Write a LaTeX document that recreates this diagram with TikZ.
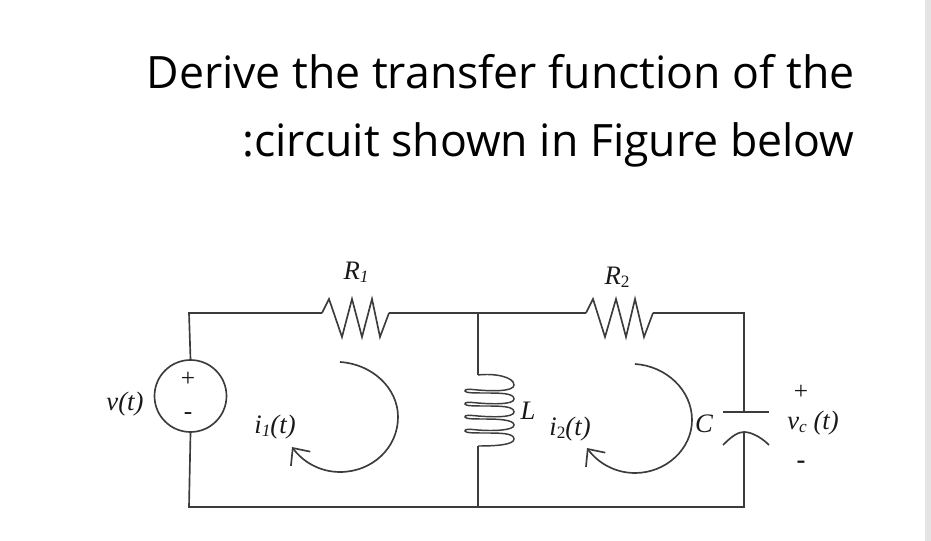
\documentclass[tikz,border=0pt]{standalone}
\usepackage{fontspec}
\setmainfont{Liberation Serif}
\newfontfamily\titlefont{Open Sans}
\usetikzlibrary{arrows.meta}
\definecolor{wirecol}{HTML}{3C3C3C}
\definecolor{edgecol}{HTML}{E4E4E4}
\tikzset{every picture/.style={line width=0.75pt}}
\tikzset{wire/.style={draw=wirecol,line width=1.25pt}}
\tikzset{coil/.style={draw=wirecol,line width=1.1pt}}
\tikzset{loopcur/.style={draw=wirecol,line width=1.25pt,-{Straight Barb[length=10pt,width=18pt,line width=1.25pt]}}}
\tikzset{heading/.style={anchor=base east,inner sep=0pt,font=\titlefont\fontsize{33.45}{33.45}\selectfont,text=black}}
\tikzset{lab/.style={inner sep=0.75pt,text=black!90,font=\fontsize{20}{20}\selectfont\itshape}}
\tikzset{pol/.style={inner sep=0.75pt,text=black!90,font=\fontsize{19}{19}\selectfont}}
\newcommand{\sbs}[1]{\raisebox{-2.5pt}{\fontsize{13}{13}\selectfont #1}}

\begin{document}
\begin{tikzpicture}[x=0.75pt,y=0.75pt,yscale=-1,xscale=1]
    \useasboundingbox (0,0) rectangle (931,541);
    \fill [edgecol] (925,0) rectangle (931,541);

    \node (line1) [heading] at (855,89) {Derive the transfer function of the};
    \node (line2) [heading] at (855,157) {:circuit shown in Figure below};

    % corners and ends of the mesh
    \coordinate (tl) at (189,313);
    \coordinate (tm) at (478,313);
    \coordinate (tr) at (744,313);
    \coordinate (bl) at (189,507);
    \coordinate (bm) at (478,507);
    \coordinate (br) at (744,507);
    \coordinate (r1a) at (322,313);
    \coordinate (r1b) at (389,313);
    \coordinate (r2a) at (586,313);
    \coordinate (r2b) at (653,313);
    \coordinate (la) at (478,375);
    \coordinate (lb) at (478,446);
    \coordinate (ca) at (744,412);
    \coordinate (cb) at (744,432);

    \node (vsrc) [circle,wire,minimum size=54pt,inner sep=0pt] at (190.5,396) {};

    \draw [wire] (vsrc.north) -- (tl) -- (r1a) ;
    \draw [wire] (r1b) -- (tm) -- (r2a) ;
    \draw [wire] (r2b) -- (tr) -- (ca) ;
    \draw [wire] (cb) -- (br) -- (bl) -- (vsrc.south) ;
    \draw [wire] (tm) -- (la) ;
    \draw [wire] (lb) -- (bm) ;

    % resistors
    \draw [wire] (r1a) -- (329,299) -- (342,337) -- (352,299) -- (362,337) -- (372,299) -- (380,337) -- (r1b) ;
    \draw [wire] (r2a) -- (593,299) -- (605,337) -- (616,299) -- (626,337) -- (635,299) -- (644,337) -- (r2b) ;

    % inductor
    \draw [coil] (la) .. controls (495,373) and (514,377) .. (514,385) .. controls (514,392) and (490,391) .. (478,390) .. controls (468,389) and (465,389) .. (465,391) .. controls (465,393) and (475,393) .. (485,393) .. controls (500,393) and (514,393) .. (514,399) .. controls (514,405) and (490,404) .. (478,403) .. controls (468,402) and (465,402) .. (465,404) .. controls (465,406) and (475,406) .. (485,406) .. controls (500,406) and (514,406) .. (514,412) .. controls (514,418) and (490,417) .. (478,416) .. controls (468,415) and (465,415) .. (465,417) .. controls (465,419) and (475,419) .. (485,419) .. controls (500,419) and (514,420) .. (514,425) .. controls (514,431) and (490,431) .. (478,430) .. controls (468,429) and (465,429) .. (465,431) .. controls (465,433) and (475,433) .. (485,433) .. controls (500,433) and (514,433) .. (514,439) .. controls (514,445) and (495,446) .. (lb) ;

    % capacitor
    \draw [wire] (723,412) -- (769,412) ;
    \draw [wire] (723,445) .. controls (732,436) and (738,432) .. (cb) .. controls (750,432) and (760,436) .. (769,445) ;

    % mesh currents
    \draw [loopcur] (340,362) .. controls (372,364) and (398,388) .. (398,417) .. controls (398,448) and (372,472) .. (340,472) .. controls (320,472) and (303,462) .. (292,447) ;
    \draw [loopcur] (635,364) .. controls (666,366) and (692,390) .. (692,420) .. controls (692,449) and (666,473) .. (635,473) .. controls (615,473) and (598,463) .. (587,448) ;

    \node (lblr1) [lab] at (356,272) {R\sbs{1}};
    \node (lblr2) [lab] at (617,277) {R\sbs{\upshape 2}};
    \node (lblv) [lab] at (125,404) {v(t)};
    \node (lbli1) [lab] at (275,427) {i\sbs{1}(t)};
    \node (lbli2) [lab] at (570,429) {i\sbs{\upshape 2}(t)};
    \node (lbll) [lab] at (528,411) {L};
    \node (lblc) [lab] at (704,424) {C};
    \node (lblvc) [lab] at (813,423) {v\sbs{c} (t)};
    \node (srcp) [pol] at (188,379) {+};
    \node (srcm) [pol] at (188,416) {-};
    \node (outp) [pol] at (801,392) {+};
    \node (outm) [pol,font=\fontsize{20}{20}\selectfont\bfseries] at (801,465) {-};
\end{tikzpicture}
\end{document}
